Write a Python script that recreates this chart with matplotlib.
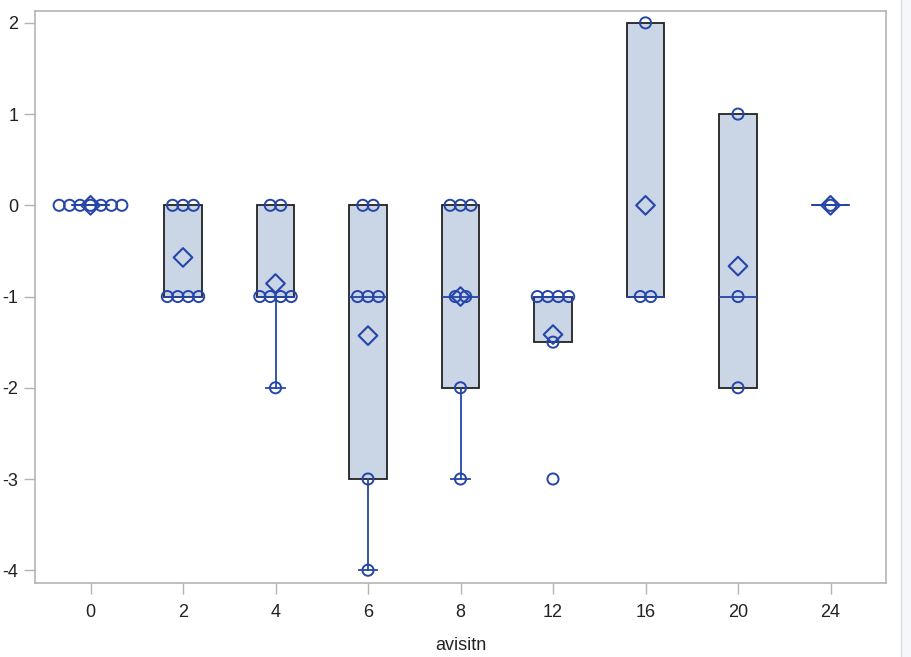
import numpy as np
import matplotlib
matplotlib.use("Agg")
import matplotlib.pyplot as plt
from matplotlib.patches import Rectangle

plt.rcParams['font.family'] = ['Liberation Sans', 'DejaVu Sans']

# ---- data ----
visits = ["0", "2", "4", "6", "8", "12", "16", "20", "24"]
v0 = [0, 0, 0, 0, 0, 0, 0]
v2 = [0, 0, 0, -1, -1, -1, -1]
v4 = [0, 0, -1, -1, -1, -1, -2]
v6 = [0, 0, -1, -1, -1, -3, -4]
v8 = [0, 0, 0, -1, -1, -2, -3]
v12 = [-1, -1, -1, -1, -1.5, -3]
v16 = [2, -1, -1]
v20 = [1, -1, -2]
v24 = [0]
groups = [v0, v2, v4, v6, v8, v12, v16, v20, v24]
yticks = [-4, -3, -2, -1, 0, 1, 2]

BLUE = "#2546A8"
FILL = "#CAD5E5"
GRAY = "#B4B4B4"

fig = plt.figure(figsize=(9.12, 6.57), dpi=100)
fig.patches.append(Rectangle((901 / 912, 0), 11 / 912, 1, transform=fig.transFigure,
                             facecolor="#F5F7FC", edgecolor="none", zorder=0))
fig.lines.append(plt.Line2D([901.5 / 912, 901.5 / 912], [0, 1], transform=fig.transFigure,
                            color="#DDDDDD", lw=1))
ax = fig.add_axes([35 / 912, 74 / 657, 851 / 912, 572 / 657])

stats = []
for i, g in enumerate(groups):
    a = np.array(g, dtype=float)
    q1, med, q3 = np.quantile(a, [0.25, 0.5, 0.75], method="averaged_inverted_cdf")
    iqr = q3 - q1
    lo_f, hi_f = q1 - 1.5 * iqr, q3 + 1.5 * iqr
    inside = a[(a >= lo_f) & (a <= hi_f)]
    stats.append(dict(med=med, q1=q1, q3=q3, whislo=inside.min(), whishi=inside.max(),
                      mean=a.mean(), fliers=[]))

pos = np.arange(len(groups))
width = 0.41
ax.bxp(stats, positions=pos, widths=width, patch_artist=True, showmeans=False,
       showfliers=False, showcaps=False,
       boxprops=dict(facecolor=FILL, edgecolor="#222222", linewidth=1.3),
       medianprops=dict(color=BLUE, linewidth=1.3),
       whiskerprops=dict(color=BLUE, linewidth=1.3),
       zorder=2)

# whisker caps only where whisker extends beyond box
cap_half = 0.1
for i, s in enumerate(stats):
    if s["whislo"] < s["q1"]:
        ax.plot([i - cap_half, i + cap_half], [s["whislo"]] * 2, color=BLUE, lw=1.3, zorder=3)
    if s["whishi"] > s["q3"]:
        ax.plot([i - cap_half, i + cap_half], [s["whishi"]] * 2, color=BLUE, lw=1.3, zorder=3)
    if s["q1"] == s["q3"]:
        ax.plot([i - width / 2, i + width / 2], [s["q1"]] * 2, color=BLUE, lw=1.3, zorder=3)

# individual points, spread horizontally when values coincide
spacing = 0.113
for i, g in enumerate(groups):
    a = np.array(g, dtype=float)
    for val in np.unique(a):
        k = int(np.sum(a == val))
        offs = (np.arange(k) - (k - 1) / 2) * spacing
        ax.scatter(i + offs, [val] * k, s=64, facecolors="none", edgecolors=BLUE,
                   linewidths=1.4, zorder=4)

# means
ax.scatter(pos, [s["mean"] for s in stats], marker="D", s=90, facecolors="none",
           edgecolors=BLUE, linewidths=1.5, zorder=5)

ax.set_xlim(-0.6, 8.6)
ax.set_ylim(-4.14, 2.13)
ax.set_xticks(pos)
ax.set_xticklabels(visits)
ax.set_yticks(yticks)
ax.set_yticklabels([str(t) for t in yticks])
ax.set_xlabel("avisitn", fontsize=13, color="#222222", labelpad=12)
for sp in ax.spines.values():
    sp.set_color(GRAY)
    sp.set_linewidth(1.2)
ax.tick_params(axis="both", length=8, width=1, color=GRAY, labelsize=13,
               labelcolor="#222222")
ax.tick_params(axis="x", pad=7)
ax.tick_params(axis="y", pad=4)

fig.savefig("out.png", dpi=100)
